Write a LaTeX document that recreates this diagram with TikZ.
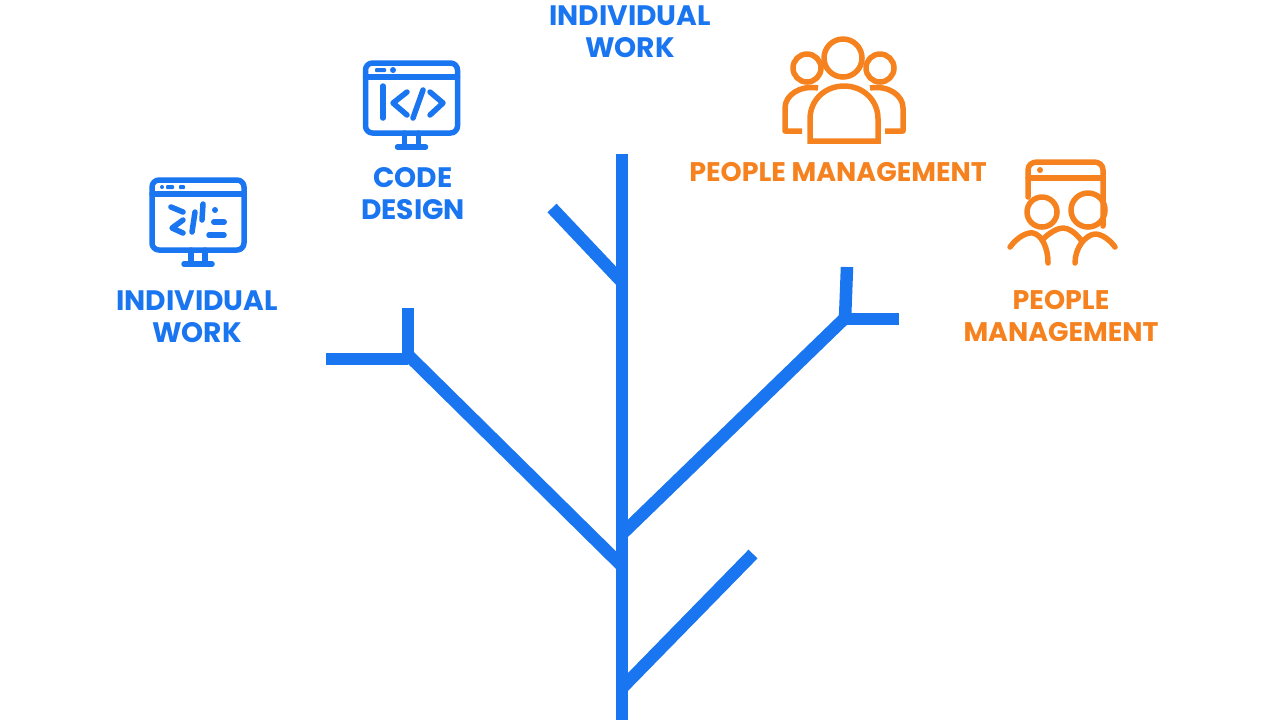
\documentclass[tikz,border=0pt]{standalone}
\usepackage{fontspec}
\setmainfont{Poppins}
\definecolor{treeblue}{HTML}{1A75F0}
\definecolor{mgmtorange}{HTML}{F5821F}
\tikzset{
  limb/.style={draw=treeblue, line width=0.125cm},
  label/.style={align=center, font=\fontsize{8}{9.1}\selectfont\bfseries, inner sep=0pt},
  bluelabel/.style={label, text=treeblue},
  orangelabel/.style={label, text=mgmtorange, font=\fontsize{7.65}{9}\selectfont\bfseries},
  iconline/.style={line width=0.055cm, line cap=round, line join=round},
  pics/monitor/.style={code={
    \draw[iconline, draw=treeblue, rounded corners=0.07cm] (-46,-34) rectangle (46,36);
    \draw[iconline, draw=treeblue] (-46,-20) -- (46,-20);
    \draw[iconline, draw=treeblue] (-7,36) -- (-7,50);
    \draw[iconline, draw=treeblue] (7,36) -- (7,50);
    \draw[iconline, draw=treeblue] (-14,50) -- (14,50);
  }}
}
\begin{document}
\begin{tikzpicture}[x=0.01cm, y=-0.01cm]
\useasboundingbox (0,0) rectangle (1280,720);
% tree
\coordinate (top) at (622,154);
\coordinate (root) at (622,720);
\coordinate (j0) at (622,282);
\coordinate (j1) at (622,534);
\coordinate (j2) at (622,566);
\coordinate (j3) at (622,688);
\coordinate (t0) at (552,208);
\coordinate (t1) at (408,355);
\coordinate (t2) at (326,359);
\coordinate (t2b) at (408,359);
\coordinate (t3) at (408,308);
\coordinate (t4) at (845,318);
\coordinate (t5) at (899,319);
\coordinate (t5b) at (845,319);
\coordinate (t6) at (847,267);
\coordinate (t7) at (753,554);
\draw[limb] (top) -- (root);
\draw[limb] (j0) -- (t0);
\draw[limb] (j2) -- (t1);
\draw[limb] (t2b) -- (t2);
\draw[limb] (t2b) -- (t3);
\draw[limb] (j1) -- (t4);
\draw[limb] (t5b) -- (t5);
\draw[limb] (t5b) -- (t6);
\draw[limb] (j3) -- (t7);
% labels
\node[bluelabel] (lab0) at (630,32) {INDIVIDUAL\\WORK};
\node[bluelabel] (lab1) at (413,194) {CODE\\DESIGN};
\node[bluelabel] (lab2) at (197,317) {INDIVIDUAL\\WORK};
\node[orangelabel] (lab3) at (838,172) {PEOPLE MANAGEMENT};
\node[orangelabel] (lab4) at (1061,316) {PEOPLE\\MANAGEMENT};
% code design monitor
\pic at (411.5,97) {monitor};
\fill[treeblue, rounded corners=0.01cm] (375,68) rectangle (386,72);
\fill[treeblue] (393,70) circle (3);
\draw[iconline, draw=treeblue] (383,86) -- (383,118);
\draw[iconline, draw=treeblue] (407,92) -- (393,103) -- (407,115);
\draw[iconline, draw=treeblue] (423,90) -- (413,118);
\draw[iconline, draw=treeblue] (430,92) -- (443,103) -- (430,115);
% individual work monitor
\pic at (198,214) {monitor};
\fill[treeblue] (162,187) circle (2);
\fill[treeblue, rounded corners=0.01cm] (166,185) rectangle (174,189);
\fill[treeblue, rounded corners=0.01cm] (179,185) rectangle (185,189);
\draw[iconline, draw=treeblue] (171,207) -- (183,212);
\draw[iconline, draw=treeblue] (183,220) -- (172,228) -- (183,233);
\draw[iconline, draw=treeblue] (195,212) -- (192,232);
\draw[iconline, draw=treeblue] (203,204) -- (202,220);
\fill[treeblue] (215,210) circle (3);
\draw[iconline, draw=treeblue, line width=0.06cm] (214,222) -- (224,222);
\draw[iconline, draw=treeblue] (209,235) -- (224,235);
% group icon
\draw[iconline, draw=mgmtorange] (843,58) circle (19);
\draw[iconline, draw=mgmtorange] (807,68) circle (14);
\draw[iconline, draw=mgmtorange] (880,68) circle (14);
\draw[iconline, draw=mgmtorange, line cap=butt, line join=miter] (810,141) -- (810,119) .. controls (810,100) and (825,86) .. (844,86) .. controls (863,86) and (878,100) .. (878,119) -- (878,141) -- cycle;
\draw[iconline, draw=mgmtorange, line cap=butt] (802,131) -- (785,131) -- (785,108) .. controls (785,95) and (800,85) .. (818,88);
\draw[iconline, draw=mgmtorange, line cap=butt] (885,131) -- (903,131) -- (903,108) .. controls (903,95) and (888,85) .. (870,88);
% two people screen icon
\draw[iconline, draw=mgmtorange] (1028,197) -- (1028,170) .. controls (1028,165) and (1032,162) .. (1037,162) -- (1094,162) .. controls (1099,162) and (1103,165) .. (1103,170) -- (1103,226);
\draw[iconline, draw=mgmtorange] (1028,178) -- (1103,178);
\fill[mgmtorange] (1040,170) circle (3);
\draw[iconline, draw=mgmtorange] (1042,212) circle (15);
\draw[iconline, draw=mgmtorange] (1088,210) circle (17);
\draw[iconline, draw=mgmtorange] (1010,247) .. controls (1018,236) and (1028,232) .. (1033,233) .. controls (1042,235) and (1048,248) .. (1048,263);
\draw[iconline, draw=mgmtorange] (1042,240) .. controls (1050,232) and (1058,228) .. (1063,228) .. controls (1068,228) and (1075,232) .. (1081,240);
\draw[iconline, draw=mgmtorange] (1075,263) .. controls (1075,248) and (1085,235) .. (1095,234) .. controls (1102,234) and (1110,240) .. (1115,247);
\end{tikzpicture}
\end{document}
